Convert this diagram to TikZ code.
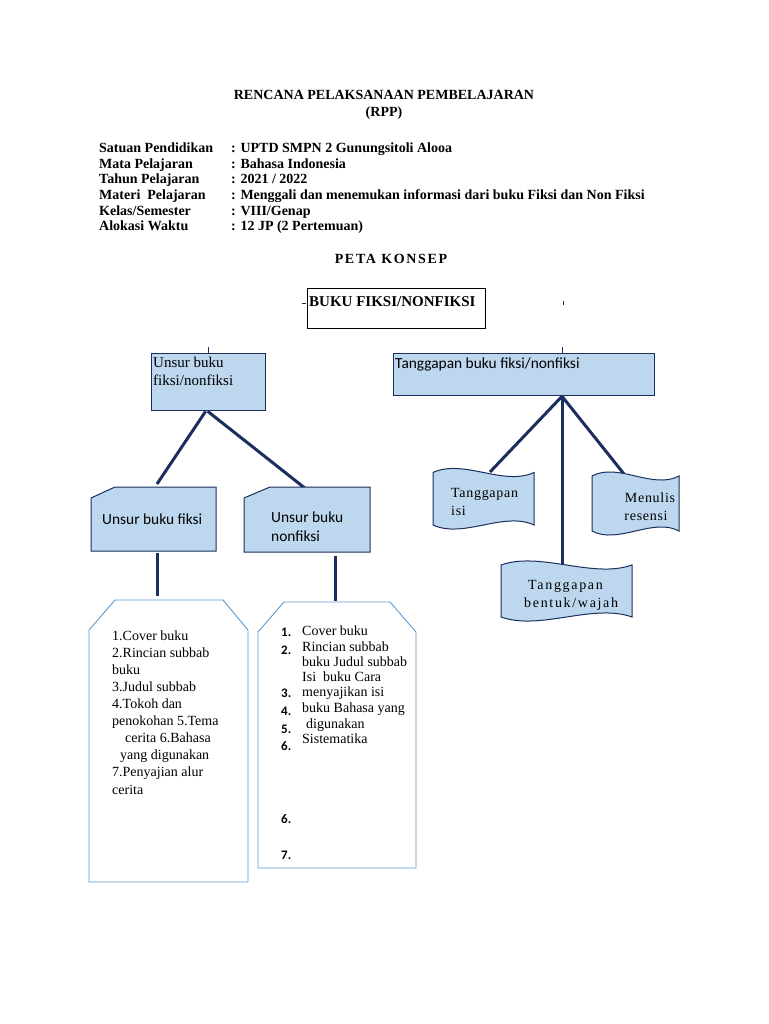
\documentclass[tikz,border=0pt]{standalone}
\usepackage{fontspec}
\setmainfont{Liberation Serif}
\newfontfamily\calfont{Carlito}
\newfontfamily\spfont[LetterSpace=5]{Liberation Serif}
\newfontfamily\spwfont[LetterSpace=12]{Liberation Serif}
\newfontfamily\pkfont[LetterSpace=12]{Liberation Serif}
\usetikzlibrary{calc}
\definecolor{navy}{HTML}{1B2F5E}
\definecolor{lblue}{HTML}{BDD7EE}
\definecolor{mblue}{HTML}{5B9BD5}
\newcommand{\wavepath}[4]{%
  (#1,#2) .. controls ({#1+0.3*(#3-#1)},{#2-14}) and ({#1+0.7*(#3-#1)},{#2+14}) .. (#3,#2)
  -- (#3,#4) .. controls ({#1+0.7*(#3-#1)},{#4-14}) and ({#1+0.3*(#3-#1)},{#4+14}) .. (#1,#4) -- cycle}
\begin{document}
\begin{tikzpicture}[x=1pt,y=-1pt,
  txt/.style={inner sep=0pt, anchor=base west},
  ctxt/.style={inner sep=0pt, anchor=base},
  hdr/.style={font=\fontsize{14}{16}\selectfont\bfseries},
  conn/.style={draw=navy, line width=3pt},
  bluebox/.style={draw=navy, line width=1.3pt, fill=lblue, inner sep=0pt, anchor=north west},
  shapebox/.style={draw=navy, line width=1pt, fill=lblue},
  listbox/.style={draw=mblue, line width=0.9pt, fill=white},
  tick/.style={draw=navy, line width=0.8pt},
  wtxt/.style={inner sep=0pt, font=\spfont\fontsize{14}{16}\selectfont},
  wwtxt/.style={inner sep=0pt, font=\spwfont\fontsize{14}{16}\selectfont},
  ctxtfont/.style={font=\calfont\fontsize{15.4}{17}\selectfont},
  numtxt/.style={inner sep=0pt, anchor=base west, font=\calfont\bfseries\fontsize{13}{15}\selectfont},
  ltxt/.style={inner sep=0pt, anchor=base west, font=\fontsize{14}{16}\selectfont}]
\useasboundingbox (0,0) rectangle (768,1024);
\fill[white] (0,0) rectangle (768,1024);

% header
\node[ctxt, hdr] (t1) at (384,100) {RENCANA PELAKSANAAN PEMBELAJARAN};
\node[ctxt, hdr] (t2) at (384,117) {(RPP)};

\node[txt, hdr] (l1) at (99,153) {Satuan Pendidikan};
\node[txt, hdr] (l2) at (99,168.5) {Mata Pelajaran};
\node[txt, hdr] (l3) at (99,184) {Tahun Pelajaran};
\node[txt, hdr] (l4) at (99,199.5) {Materi\ \ Pelajaran};
\node[txt, hdr] (l5) at (99,215) {Kelas/Semester};
\node[txt, hdr] (l6) at (99,231) {Alokasi Waktu};
\node[txt, hdr] (v1) at (231,153) {: UPTD SMPN 2 Gunungsitoli Alooa};
\node[txt, hdr] (v2) at (231,168.5) {: Bahasa Indonesia};
\node[txt, hdr] (v3) at (231,184) {: 2021 / 2022};
\node[txt, hdr] (v4) at (231,199.5) {: Menggali dan menemukan informasi dari buku Fiksi dan Non Fiksi};
\node[txt, hdr] (v5) at (231,215) {: VIII/Genap};
\node[txt, hdr] (v6) at (231,231) {: 12 JP (2 Pertemuan)};

\node[ctxt, font=\pkfont\bfseries\fontsize{14}{16}\selectfont] (peta) at (391,263) {PETA KONSEP};

% top box
\node[draw=black, line width=0.8pt, minimum width=178, minimum height=40, inner sep=0pt, anchor=north west] (buku) at (307,288) {};
\node[txt, font=\rmfamily\bfseries\fontsize{15}{17}\selectfont] (bukut) at (309,306) {BUKU FIKSI/NONFIKSI};
\coordinate (tk1) at (302,303); \coordinate (tk1e) at (306,303);
\draw[tick] (tk1) -- (tk1e);
\coordinate (tk2) at (563,301); \coordinate (tk2e) at (563,305);
\draw[tick] (tk2) -- (tk2e);

% second level
\node[bluebox, minimum width=114, minimum height=57] (unsur) at (151,353) {};
\node[txt, font=\rmfamily\fontsize{15}{17}\selectfont] (unsur1) at (153,367) {Unsur buku};
\node[txt, font=\rmfamily\fontsize{15}{17}\selectfont] (unsur2) at (153,385) {fiksi/nonfiksi};
\coordinate (tk3) at (208,347);
\draw[tick] (tk3) -- (unsur.north -| tk3);

\node[bluebox, minimum width=261, minimum height=42] (tang) at (393,353) {};
\node[txt, ctxtfont] (tangt) at (395,368) {Tanggapan buku fiksi/nonfiksi};
\coordinate (tk4) at (562,347);
\draw[tick] (tk4) -- (tang.north -| tk4);
\coordinate (hub) at (tang.south -| tk4);

% left branch
\coordinate (ufTop) at (157,484);
\coordinate (unfTop) at (306,489);
\draw[conn] ([xshift=-3pt]unsur.south) -- (ufTop);
\draw[conn] ([xshift=-1pt]unsur.south) -- (unfTop);

\path[shapebox] (91,498) -- (115,487) -- (216,487) -- (216,551) -- (91,551) -- cycle;
\node[txt, ctxtfont] (fiksi) at (102,524) {Unsur buku fiksi};
\path[shapebox] (244,498) -- (270,487) -- (370,487) -- (370,552) -- (244,552) -- cycle;
\node[txt, ctxtfont] (nonf1) at (271,522) {Unsur buku};
\node[txt, ctxtfont] (nonf2) at (271,541) {nonfiksi};

\coordinate (fb) at (157,553); \coordinate (fl) at (157,596);
\coordinate (nb) at (335,556); \coordinate (nl) at (335,601);
\draw[conn] (fb) -- (fl);
\draw[conn] (nb) -- (nl);

% lower list boxes
\path[listbox] (89,630) -- (115,600) -- (223,600) -- (248,630) -- (248,882) -- (89,882) -- cycle;
\path[listbox] (258,632) -- (284,602) -- (390,602) -- (416,632) -- (416,868) -- (258,868) -- cycle;

\node[ltxt] (a1) at (112,640) {1.Cover buku};
\node[ltxt] (a2) at (112,657) {2.Rincian subbab};
\node[ltxt] (a3) at (112,674) {buku};
\node[ltxt] (a4) at (112,691) {3.Judul subbab};
\node[ltxt] (a5) at (112,708) {4.Tokoh dan};
\node[ltxt] (a6) at (112,725) {penokohan 5.Tema};
\node[ltxt] (a7) at (125,742) {cerita 6.Bahasa};
\node[ltxt] (a8) at (120,759) {yang digunakan};
\node[ltxt] (a9) at (112,776) {7.Penyajian alur};
\node[ltxt] (a10) at (112,794) {cerita};

\node[numtxt] (n1) at (281,636) {1.};
\node[numtxt] (n2) at (281,654) {2.};
\node[numtxt] (n3) at (281,697) {3.};
\node[numtxt] (n4) at (281,715) {4.};
\node[numtxt] (n5) at (281,733) {5.};
\node[numtxt] (n6) at (281,750) {6.};
\node[numtxt] (n7) at (281,823) {6.};
\node[numtxt] (n8) at (281,859) {7.};
\node[ltxt] (b1) at (302,635) {Cover buku};
\node[ltxt] (b2) at (302,651) {Rincian subbab};
\node[ltxt] (b3) at (302,666) {buku Judul subbab};
\node[ltxt] (b4) at (302,681) {Isi\ \ buku Cara};
\node[ltxt] (b5) at (302,696) {menyajikan isi};
\node[ltxt] (b6) at (302,712) {buku Bahasa yang};
\node[ltxt] (b7) at (306,728) {digunakan};
\node[ltxt] (b8) at (302,743) {Sistematika};

% right branch
\coordinate (isiTop) at (490,472);
\coordinate (bentTop) at (562,565);
\coordinate (resTop) at (624,474);
\draw[conn] (hub) -- (isiTop);
\draw[conn] (hub) -- (bentTop);
\draw[conn] (hub) -- (resTop);

\path[shapebox] \wavepath{433}{472.5}{534}{525};
\node[wtxt, anchor=base west] (isi1) at (451,497) {Tanggapan};
\node[wtxt, anchor=base west] (isi2) at (451,515) {isi};

\path[shapebox] \wavepath{592}{476}{679}{531};
\node[wtxt, anchor=base] (res1) at (650,502) {Menulis};
\node[wtxt, anchor=base] (res2) at (646,520) {resensi};

\path[shapebox] \wavepath{501}{565}{632}{617};
\node[wwtxt, anchor=base west] (bw1) at (528,589) {Tanggapan};
\node[wwtxt, anchor=base west] (bw2) at (524,607) {bentuk/wajah};
\end{tikzpicture}
\end{document}
